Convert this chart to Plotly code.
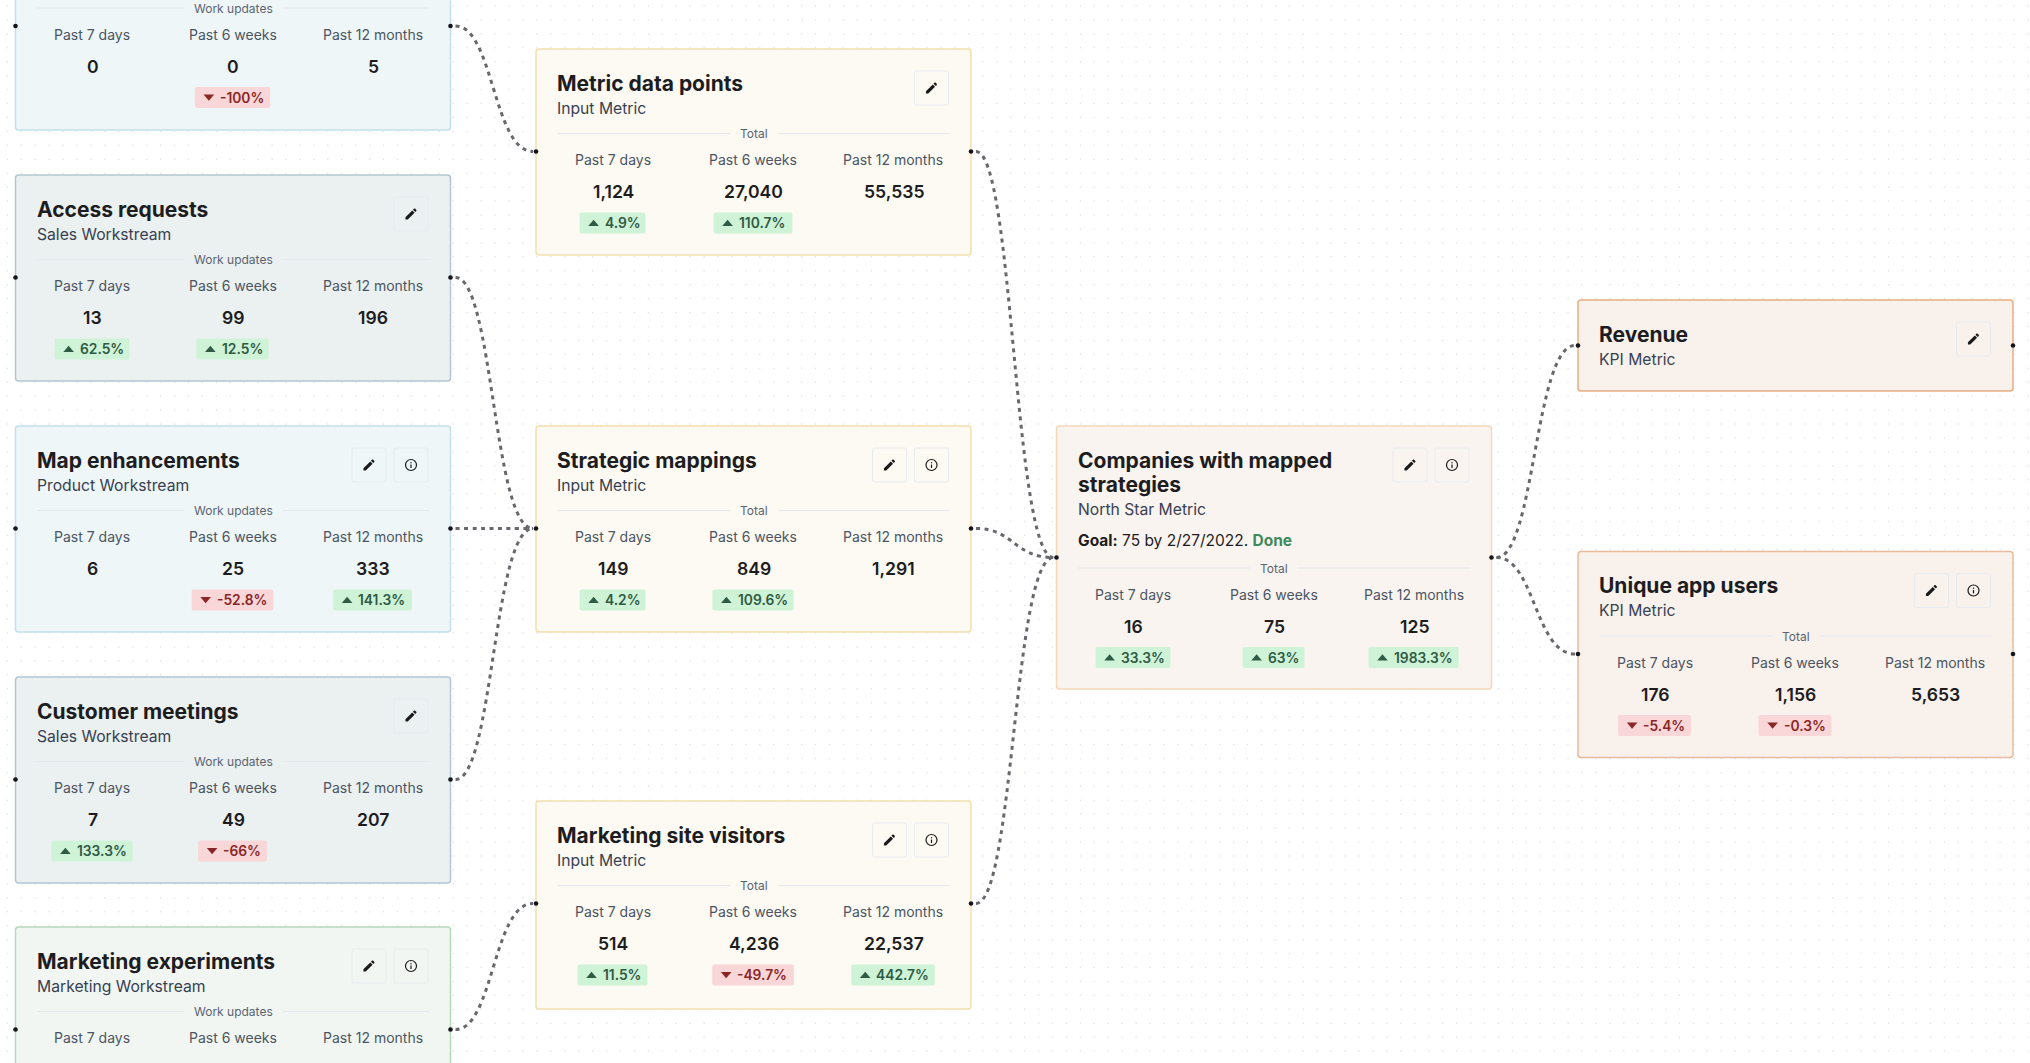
import plotly.graph_objects as go

# --- data ---
card_titles = [None, "Access requests", "Map enhancements", "Customer meetings", "Marketing experiments",
               "Metric data points", "Strategic mappings", "Marketing site visitors",
               "Companies with mapped<br>strategies", "Revenue", "Unique app users"]
card_kinds = [None, "Sales Workstream", "Product Workstream", "Sales Workstream", "Marketing Workstream",
              "Input Metric", "Input Metric", "Input Metric",
              "North Star Metric", "KPI Metric", "KPI Metric"]
card_groups = ["Work updates"] * 5 + ["Total"] * 3 + ["Total", None, "Total"]
period_labels = ["Past 7 days", "Past 6 weeks", "Past 12 months"]

past_7_days = [0, 13, 6, 7, None, 1124, 149, 514, 16, None, 176]
past_6_weeks = [0, 99, 25, 49, None, 27040, 849, 4236, 75, None, 1156]
past_12_months = [5, 196, 333, 207, None, 55535, 1291, 22537, 125, None, 5653]

change_7_days = [None, 62.5, None, 133.3, None, 4.9, 4.2, 11.5, 33.3, None, -5.4]
change_6_weeks = [-100, 12.5, -52.8, -66, None, 110.7, 109.6, -49.7, 63, None, -0.3]
change_12_months = [None, None, 141.3, None, None, None, None, 442.7, 1983.3, None, None]

has_info = [False, False, True, False, True, False, True, True, True, False, True]
edges = [(0, 5), (1, 6), (2, 6), (3, 6), (4, 7), (5, 8), (6, 8), (7, 8), (8, 9), (8, 10)]

# --- layout of the board, in page pixels ---
W, H = 2030, 1063
CARD_W = 435
card_left = [15.5] * 5 + [536] * 3 + [1056.5] + [1578] * 2
card_top = [-76.5, 175, 426, 677, 927, 49, 426, 801, 426, 300, 551.5]
card_bottom = [130, 381, 632, 883, 1133, 255, 632, 1009, 689, 391, 757.5]
fills = ["#eef6f8", "#ebf0f0", "#eef6f8", "#ebf0f0", "#f1f6f2", "#fcfaf3", "#fcfaf3", "#fcfaf3",
         "#f9f4ef", "#f8f1ec", "#f8f1ec"]
borders = ["#c3dfe9", "#b3c7d1", "#c3dfe9", "#b3c7d1", "#b5d9ba", "#f1e0ad", "#f1e0ad", "#f1e0ad",
           "#f4d8bb", "#e6ae84", "#e8bb9c"]
stat_offsets = [76.5, 217, 357]
FONT = "Inter"
DOT_GAP = 13.935


def badge_width(txt):
    w = 0
    for ch in txt:
        w += {"1": 6.5, ".": 4, "%": 12, "-": 7}.get(ch, 8.9)
    return w + 32


def round_rect(x0, y0, x1, y1, r):
    return (f"M {x0 + r},{y0} L {x1 - r},{y0} Q {x1},{y0} {x1},{y0 + r} L {x1},{y1 - r} Q {x1},{y1} {x1 - r},{y1} "
            f"L {x0 + r},{y1} Q {x0},{y1} {x0},{y1 - r} L {x0},{y0 + r} Q {x0},{y0} {x0 + r},{y0} Z")


fig = go.Figure()

# dotted background of the board
dots_x, dots_y = [], []
for i in range(0, 146):
    for j in range(0, 77):
        dots_x.append(7.33 + i * DOT_GAP)
        dots_y.append(5.98 + j * DOT_GAP)
fig.add_trace(go.Scatter(x=dots_x, y=dots_y, mode="markers", hoverinfo="skip",
                         marker=dict(size=1.5, color="#dcdee1", line_width=0)))

shapes = []
notes = []


def text(x, y, s, size, color, weight=400, anchor="center", bg=None, pad=0):
    notes.append(dict(x=x, y=y, text=s, showarrow=False, xanchor=anchor, yanchor="middle", align="left",
                      font=dict(family=FONT, size=size, color=color, weight=weight),
                      bgcolor=bg, borderpad=pad, borderwidth=0))


def handle_y(i):
    if i == 8:
        return card_top[i] + 131.5
    if i == 9:
        return card_top[i] + 45.5
    return card_top[i] + 102.5


# edges go first so the cards sit on top of their ends
for a, b in edges:
    sx = card_left[a] + CARD_W
    tx = card_left[b]
    sy, ty = handle_y(a), handle_y(b)
    cx = (sx + tx) / 2
    shapes.append(dict(type="path", path=f"M {sx + 5},{sy} C {cx},{sy} {cx},{ty} {tx - 3},{ty}",
                       line=dict(color="#66686d", width=3, dash="4px,4.5px"), layer="above"))

pencil_a = [(3, 17.25), (3, 21), (6.75, 21), (17.81, 9.94), (14.06, 6.19)]
pencil_b = [(15.13, 5.12), (16.96, 3.29), (18.37, 3.29), (20.71, 5.63), (20.71, 7.04), (18.88, 8.87)]


def pencil(cx, cy):
    for poly in (pencil_a, pencil_b):
        pts = [f"{cx + (p[0] - 12) * 0.62:.2f},{cy + (p[1] - 12) * 0.62:.2f}" for p in poly]
        shapes.append(dict(type="path", path="M " + " L ".join(pts) + " Z", fillcolor="#1a1a1a",
                           line_width=0, layer="above"))


def button(cx, cy, fill):
    shapes.append(dict(type="path", path=round_rect(cx - 17, cy - 17, cx + 17, cy + 17, 2), fillcolor=fill,
                       line=dict(color="#e8ebef", width=1), layer="above"))


def info(cx, cy):
    shapes.append(dict(type="circle", x0=cx - 5.5, x1=cx + 5.5, y0=cy - 5.5, y1=cy + 5.5,
                       line=dict(color="#1a1a1a", width=1.2), layer="above"))
    shapes.append(dict(type="line", x0=cx, x1=cx, y0=cy - 0.5, y1=cy + 3,
                       line=dict(color="#1a1a1a", width=1.2), layer="above"))
    shapes.append(dict(type="circle", x0=cx - 0.7, x1=cx + 0.7, y0=cy - 3, y1=cy - 1.6,
                       fillcolor="#1a1a1a", line_width=0, layer="above"))


for i in range(len(card_left)):
    x0, y0 = card_left[i], card_top[i]
    x1, y1 = x0 + CARD_W, card_bottom[i]
    fill = fills[i]
    shapes.append(dict(type="path", path=round_rect(x0, y0, x1, y1, 3), fillcolor=fill,
                       line=dict(color=borders[i], width=1.5), layer="above"))

    # connection handles on both sides of the card
    hy = handle_y(i)
    for hx in (x0, x1):
        shapes.append(dict(type="circle", x0=hx - 2.3, x1=hx + 2.3, y0=hy - 2.3, y1=hy + 2.3,
                           fillcolor="#14161c", line_width=0, layer="above"))

    # the north star card has a wrapped title and a goal line
    shift = 57.5 if i == 8 else 0
    tx0 = x0 + 21
    if card_titles[i]:
        lines = card_titles[i].split("<br>")
        for n, line in enumerate(lines):
            text(tx0, y0 + 34 + n * 24.5, line, 21, "#1d1d1f", 650, "left")
        text(tx0, y0 + 59 + (24 if i == 8 else 0), card_kinds[i], 15.7, "#374151", 400, "left")
    if i == 8:
        text(tx0, y0 + 114,
             "<b>Goal:</b> 75 by 2/27/2022. <span style='color:#3f8a5a'><b>Done</b></span>",
             15.5, "#1d1d1f", 400, "left")

    # action buttons, top right
    if card_titles[i]:
        by = y0 + 39
        px = x1 - 39.5
        if has_info[i]:
            button(px - 42, by, fill)
            pencil(px - 42, by)
            button(px, by, fill)
            info(px, by)
        else:
            button(px, by, fill)
            pencil(px, by)

    # stats block
    if card_groups[i]:
        dy = y0 + 84.5 + shift
        shapes.append(dict(type="line", x0=x0 + 21.5, x1=x1 - 21.5, y0=dy, y1=dy,
                           line=dict(color="#e4e7ec", width=1), layer="above"))
        text(x0 + CARD_W / 2, dy, card_groups[i], 12, "#5b6472", 400, bg=fill, pad=10)
        rows = (past_7_days[i], past_6_weeks[i], past_12_months[i])
        changes = (change_7_days[i], change_6_weeks[i], change_12_months[i])
        for k, off in enumerate(stat_offsets):
            cx = x0 + off
            text(cx, y0 + 110.5 + shift, period_labels[k], 14, "#4b5563")
            if rows[k] is None:
                continue
            text(cx + 0.5, y0 + 142.5 + shift, f"{rows[k]:,}", 17.6, "#1d1d1f", 600)
            if changes[k] is None:
                continue
            c = changes[k]
            lbl = f"{c:g}%"
            bw = badge_width(lbl)
            by = y0 + 174 + shift
            up = c >= 0
            shapes.append(dict(type="path", path=round_rect(cx - bw / 2, by - 10.5, cx + bw / 2, by + 10.5, 2),
                               fillcolor="#cef3d6" if up else "#f9d6d8", line_width=0, layer="above"))
            tx = cx - bw / 2 + 14
            tri_col = "#2f5a44" if up else "#8a2626"
            if up:
                tri = f"M {tx - 5.3},{by + 3} L {tx},{by - 3.2} L {tx + 5.3},{by + 3} Z"
            else:
                tri = f"M {tx - 5.3},{by - 3} L {tx},{by + 3.2} L {tx + 5.3},{by - 3} Z"
            shapes.append(dict(type="path", path=tri, fillcolor=tri_col, line_width=0, layer="above"))
            text(cx - bw / 2 + 25.2, by, lbl, 13.8, tri_col, 600, "left")

fig.update_layout(
    width=W,
    height=H,
    margin=dict(l=0, r=0, t=0, b=0),
    paper_bgcolor="#ffffff",
    plot_bgcolor="#ffffff",
    showlegend=False,
    hovermode=False,
    shapes=shapes,
    annotations=notes,
    font=dict(family=FONT),
    xaxis=dict(range=[0, W], visible=False, fixedrange=True),
    yaxis=dict(range=[H, 0], visible=False, fixedrange=True),
)

fig.write_html("out.html", config=dict(displayModeBar=False),
               post_script="document.body.style.margin='0';document.body.style.overflow='hidden';")
